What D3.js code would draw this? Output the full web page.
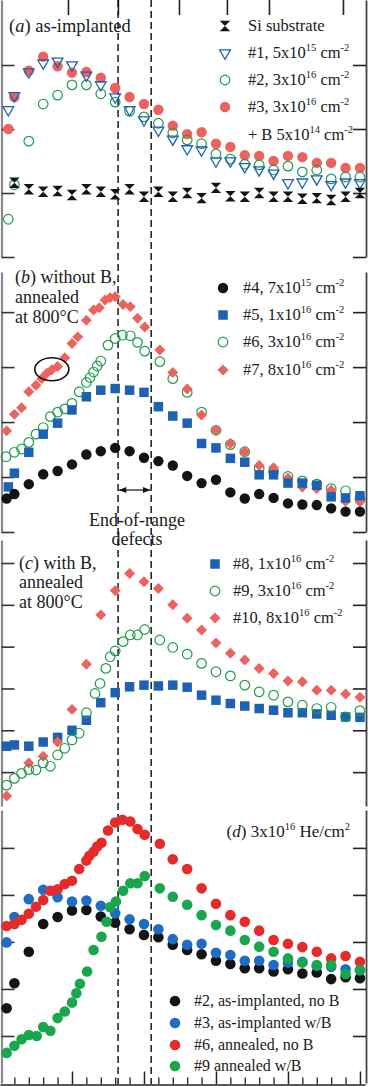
<!DOCTYPE html>
<html><head><meta charset="utf-8">
<script src="https://cdn.jsdelivr.net/npm/d3@7"></script>
<style>
body{margin:0;background:#fff}
svg{display:block}
text{font-family:"Liberation Serif","Times New Roman",serif;fill:#1a1a1a}
</style>
</head><body><svg id="c" width="368" height="1086"></svg>
<script>
// ---------- DATA ----------
// x positions (depth, in minor-tick units)
const xMinor = [1,2,3,4,6,7,8,9,11,12,13,14,16,17,18,19,21,22,23,24];
const xMajor = [5,10,15,20,25];
const xTop = [4.72,8.19,12.43,15.76,18.68,23.82];
const eorBounds = [8.2,10.5];

// panel (a) as-implanted
const aSiX = [1,2,3,4,5,6,7,8,9,10,11,12,13,14,15,16,17,18,19,20,21,22,23,24,25];
const aSi  = [1.16,1.06,1.02,1.03,0.97,1.06,1.02,0.98,1.06,0.94,1.02,0.94,1.00,0.92,1.08,0.95,0.94,1.00,0.94,0.94,0.91,0.92,0.89,0.94,1.00];
const aX   = [0.58,1,2,3,4,5,6,7,8,9,10,11,12,13,14,15,16,17,18,19,20,21,22,23,24,25];
const a1   = [2.30,2.52,2.89,3.03,3.06,3.00,2.84,2.69,2.50,2.30,2.14,1.98,1.84,1.69,1.67,1.50,1.50,1.41,1.36,1.31,1.16,1.17,1.22,1.13,1.17,1.16];
const a2   = [0.59,1.13,1.81,2.39,2.53,2.69,2.69,2.55,2.42,2.28,2.19,2.09,1.94,1.83,1.77,1.61,1.53,1.45,1.44,1.36,1.42,1.33,1.36,1.22,1.25,1.25];
const a3   = [2.00,2.50,2.91,3.13,2.98,2.88,2.89,2.80,2.64,2.50,2.39,2.30,2.05,1.92,1.95,1.77,1.72,1.59,1.58,1.50,1.58,1.56,1.47,1.47,1.39,1.39];
const aTicks = [0,1,2,3];

// panel (b) without B, annealed
const b4X = [0.46,1,2,3,4,5,6,7,8,9,10,11,12,13,14,15,16,17,18,19,20,21,22,23,24,25];
const b4  = [0.61,0.69,0.87,1.05,1.11,1.23,1.41,1.47,1.53,1.47,1.35,1.29,1.21,1.02,0.89,0.95,0.72,0.61,0.69,0.62,0.52,0.50,0.49,0.43,0.37,0.37];
const b5X = [0.58,1,2,3,4,5,6,7,8,9,10,11,12,13,14,15,16,17,18,19,20,21,22,23,24,25];
const b5  = [0.82,1.07,1.45,1.78,1.98,2.22,2.46,2.58,2.61,2.58,2.54,2.28,2.11,1.98,1.61,1.53,1.34,1.27,1.04,1.04,0.89,0.89,0.85,0.64,0.62,0.66];
const b6X = [0.42,1,1.5,2,2.5,3,3.5,4,4.5,5,5.5,6,6.25,6.5,6.75,7,7.5,8,8.5,9.05,9.55,10.05,11.1,12,13,14,15,16,17,18,19,20,21,22,23,24,25];
const b6  = [1.37,1.45,1.51,1.63,1.78,1.90,2.10,2.18,2.24,2.34,2.55,2.72,2.81,2.91,3.02,3.11,3.40,3.52,3.58,3.57,3.45,3.29,3.10,2.79,2.54,2.18,1.85,1.59,1.46,1.16,1.10,1.01,0.93,0.87,0.79,0.75,0.61];
const b7X = [0.46,1,1.5,2,2.5,2.9,3.25,3.6,4,4.5,5,5.4,6,6.5,6.9,7.3,7.65,8,8.55,9.05,9.55,10.05,11.1,12,13,14,15,16,17,18,19,20,21,22,23,24,25];
const b7  = [1.84,2.14,2.26,2.55,2.67,2.79,2.89,2.95,3.01,3.17,3.43,3.55,3.85,4.04,4.08,4.22,4.26,4.28,4.14,4.10,3.89,3.73,3.31,2.90,2.60,2.13,1.85,1.61,1.46,1.21,1.17,0.98,0.82,0.79,0.76,0.56,0.55];
const bTicks = [0,1,2,3,4];
const bCircle = {x:3.6, y:2.96};

// panel (c) with B, annealed
const c8X = [0.46,1,2,3,4,5,6,7,8,9,10,11,12,13,14,15,16,17,18,19,20,21,22,23,24,25];
const c8  = [1.62,1.65,1.62,1.72,1.83,2.00,2.24,2.66,2.90,3.04,3.08,3.06,3.08,3.03,2.84,2.72,2.64,2.58,2.52,2.48,2.42,2.42,2.39,2.36,2.32,2.31];
const c9X = [0.46,1,1.5,2,2.5,3,3.5,4,4.5,5,5.5,6,6.6,6.95,7.35,7.65,8,8.55,9.05,9.55,10.05,11.1,12,13,14,15,16,17,18,19,20,21,22,23,24,25];
const c9  = [0.69,0.85,0.97,1.06,1.05,1.22,1.14,1.41,1.57,1.77,1.93,2.42,2.88,3.12,3.48,3.76,3.90,4.12,4.28,4.28,4.41,4.16,3.98,3.82,3.60,3.40,3.30,3.08,2.92,2.84,2.68,2.60,2.52,2.55,2.32,2.47];
const c10X = [0.46,2,3,4,5,6,7,8,9,10,11,12,13,14,15,16,17,18,19,20,21,22,23,24,25];
const c10  = [0.43,1.22,1.38,1.72,2.50,3.58,4.76,5.34,5.75,5.55,5.39,5.00,4.68,4.40,4.09,3.84,3.68,3.48,3.36,3.18,3.16,2.96,2.96,2.87,2.79];
const cTicks = [1,2,3,4,5,6];

// panel (d) 3x10^16 He/cm2
const dX  = [0.46,1,2,3,4,5,6,7,8,9,10,11,12,13,14,15,16,17,18,19,20,21,22,23,24,25];
const d2  = [1.59,2.12,2.79,3.38,3.53,3.67,3.68,3.54,3.41,3.27,3.15,3.10,2.94,2.83,2.74,2.60,2.53,2.44,2.44,2.37,2.42,2.33,2.35,2.21,2.25,2.23];
const d3v = [2.99,3.53,3.91,4.11,3.95,3.86,3.88,3.77,3.61,3.48,3.38,3.27,3.06,2.94,2.96,2.77,2.72,2.60,2.60,2.51,2.56,2.58,2.49,2.47,2.42,2.40];
const d6X = [0.46,1,1.5,2,2.5,3,3.5,4,4.5,5,5.5,6,6.2,6.5,6.75,7.05,7.5,8,8.5,9.05,9.55,10.05,11.1,12,13,14,15,16,17,18,19,20,21,22,23,24,25];
const d6  = [3.34,3.38,3.47,3.60,3.75,3.89,4.09,4.12,4.23,4.30,4.55,4.73,4.83,4.92,5.03,5.11,5.37,5.54,5.60,5.56,5.40,5.28,5.09,4.76,4.55,4.14,3.81,3.57,3.43,3.24,3.04,2.96,2.89,2.79,2.65,2.70,2.58];
const d9X = [0.46,1,1.5,2,2.55,3,3.5,4,4.5,5,5.3,5.55,6.05,6.5,7.05,7.4,7.65,8.05,8.55,9.05,9.55,10.05,11.1,12,13,14,15,16,17,18,19,20,21,22,23,24,25];
const d9  = [0.64,0.79,0.93,1.02,1.00,1.19,1.11,1.38,1.52,1.71,1.91,2.11,2.37,2.83,3.11,3.43,3.74,3.86,4.09,4.25,4.25,4.40,4.14,3.96,3.79,3.57,3.36,3.24,3.04,2.90,2.79,2.65,2.56,2.51,2.51,2.32,2.40];
const dTicks = [1,2,3,4,5];

// legend labels
const aLabels = ["Si substrate","#1, 5x10^{15} cm^{-2}","#2, 3x10^{16} cm^{-2}","#3, 3x10^{16} cm^{-2}"];
const bLabels = ["#4, 7x10^{15} cm^{-2}","#5, 1x10^{16} cm^{-2}","#6, 3x10^{16} cm^{-2}","#7, 8x10^{16} cm^{-2}"];
const cLabels = ["#8, 1x10^{16} cm^{-2}","#9, 3x10^{16} cm^{-2}","#10, 8x10^{16} cm^{-2}"];
const dLabels = ["#2, as-implanted, no B","#3, as-implanted w/B","#6, annealed, no B","#9 annealed w/B"];

// ---------- DRAW ----------
const svg = d3.select("#c");
const x = d3.scaleLinear().domain([0,25.35]).range([0,365]);

const C = {red:"#ec625d", blue:"#1d62b2", green:"#1f9c4f", black:"#141414",
           dred:"#e52a2c", dblue:"#1f6dc2", dgreen:"#19a64c"};

const hourglass = {draw(ctx,size){const s=Math.sqrt(size)/2; ctx.moveTo(-s,-s); ctx.lineTo(s,-s); ctx.lineTo(-s,s); ctx.lineTo(s,s); ctx.closePath();}};
const sty = {
  hour:   {type:hourglass, size:110, fill:C.black, stroke:"none"},
  tri:    {type:d3.symbolTriangle, size:50, fill:"none", stroke:C.blue, rot:180, sw:1.3},
  ocirc:  {type:d3.symbolCircle, size:72, fill:"none", stroke:C.green, sw:1.2},
  rcirc:  {type:d3.symbolCircle, size:85, fill:C.red, stroke:"none"},
  kcirc:  {type:d3.symbolCircle, size:85, fill:C.black, stroke:"none"},
  bsq:    {type:d3.symbolSquare, size:90, fill:C.blue, stroke:"none"},
  diam:   {type:d3.symbolSquare, size:60, fill:C.red, stroke:"none", rot:45},
  dk:     {type:d3.symbolCircle, size:88, fill:C.black, stroke:"none"},
  db:     {type:d3.symbolCircle, size:88, fill:C.dblue, stroke:"none"},
  dr:     {type:d3.symbolCircle, size:88, fill:C.dred, stroke:"none"},
  dg:     {type:d3.symbolCircle, size:88, fill:C.dgreen, stroke:"none"}
};

function drawSym(g, cx, cy, s){
  g.append("path")
   .attr("d", d3.symbol().type(s.type).size(s.size)())
   .attr("transform", `translate(${cx},${cy})` + (s.rot ? ` rotate(${s.rot})` : ""))
   .attr("fill", s.fill).attr("stroke", s.stroke).attr("stroke-width", s.sw||1);
}
function series(g, xs, ys, yScale, s){
  xs.forEach((xv,i)=> drawSym(g, x(xv), yScale(ys[i]), s));
}
function rich(t, str, supSize){
  const parts = str.split(/\^\{([^}]*)\}/);
  let prevSup=false;
  parts.forEach((p,i)=>{
    if(p==="") { return; }
    const sup = i%2===1;
    const ts = t.append("tspan").text(p);
    if(sup){ ts.attr("font-size", supSize||10.5).attr("dy", -7); prevSup=true; }
    else if(prevSup){ ts.attr("dy", 7); prevSup=false; }
  });
}
function label(x0,y0,str,opts={}){
  const t = svg.append("text").attr("x",x0).attr("y",y0)
    .attr("font-size",opts.size||16.5).attr("text-anchor",opts.anchor||"start");
  const m = str.match(/^\((\w)\)(.*)$/);
  if(m){ t.append("tspan").text("("); t.append("tspan").attr("font-style","italic").text(m[1]); t.append("tspan").text(")"); rich(t,m[2],opts.sup); }
  else rich(t,str,opts.sup);
  return t;
}

const panels = [
  {y:d3.scaleLinear().domain([0,4]).range([257,1]), top:0, bot:257, ticks:aTicks},
  {y:d3.scaleLinear().domain([0,4.73]).range([532,272]), top:272, bot:532, ticks:bTicks},
  {y:d3.scaleLinear().domain([0.19,6.55]).range([806,540]), top:540, bot:806, ticks:cTicks},
  {y:d3.scaleLinear().domain([0,5.87]).range([1083,807]), top:810, bot:1083, ticks:dTicks}
];

// axes
panels.forEach(p=>{
  const ys = d3.scaleLinear().domain([p.y.invert(p.bot), p.y.invert(p.top)]).range([p.bot,p.top]);
  const gl = svg.append("g").attr("transform","translate(1.5,0)")
    .call(d3.axisLeft(ys).tickValues(p.ticks).tickSizeInner(-13).tickSizeOuter(0).tickFormat(""));
  gl.select(".domain").attr("stroke","#8a8a8a").attr("stroke-width",2.2);
  gl.selectAll(".tick line").attr("stroke","#333").attr("stroke-width",1.6);
  const gr = svg.append("g").attr("transform","translate(366,0)")
    .call(d3.axisRight(ys).tickValues(p.ticks).tickSizeInner(-13).tickSizeOuter(0).tickFormat(""));
  gr.select(".domain").attr("stroke","#444").attr("stroke-width",1.8);
  gr.selectAll(".tick line").attr("stroke","#222").attr("stroke-width",1.6);
});
// top ticks (panel a)
const gt = svg.append("g").attr("transform","translate(0,0)")
  .call(d3.axisTop(x).tickValues(xTop).tickSizeInner(-15).tickSizeOuter(0).tickFormat(""));
gt.select(".domain").remove();
gt.selectAll(".tick line").attr("stroke","#222").attr("stroke-width",1.6);
// bottom axis
const gb1 = svg.append("g").attr("transform","translate(0,1084.5)")
  .call(d3.axisBottom(x).tickValues(xMinor).tickSizeInner(-7).tickSizeOuter(0).tickFormat(""));
gb1.select(".domain").attr("stroke","#222").attr("stroke-width",1.6);
gb1.selectAll(".tick line").attr("stroke","#222").attr("stroke-width",1.3);
const gb2 = svg.append("g").attr("transform","translate(0,1084.5)")
  .call(d3.axisBottom(x).tickValues(xMajor).tickSizeInner(-13).tickSizeOuter(0).tickFormat(""));
gb2.select(".domain").remove();
gb2.selectAll(".tick line").attr("stroke","#222").attr("stroke-width",1.5);

// dashed end-of-range lines
eorBounds.forEach(v=>{
  svg.append("line").attr("x1",x(v)).attr("x2",x(v)).attr("y1",0).attr("y2",1084)
    .attr("stroke","#1a1a1a").attr("stroke-width",1.5).attr("stroke-dasharray","7,4");
});

const g = svg.append("g");
// panel a
const pa = panels[0].y;
series(g, aX, a3, pa, sty.rcirc);
series(g, aX, a2, pa, sty.ocirc);
series(g, aX, a1, pa, sty.tri);
series(g, aSiX, aSi, pa, sty.hour);
// panel b
const pb = panels[1].y;
series(g, b6X, b6, pb, sty.ocirc);
series(g, b7X, b7, pb, sty.diam);
series(g, b5X, b5, pb, sty.bsq);
series(g, b4X, b4, pb, sty.kcirc);
svg.append("ellipse").attr("cx",x(bCircle.x)).attr("cy",pb(bCircle.y)).attr("rx",17).attr("ry",11.5)
  .attr("fill","none").attr("stroke","#111").attr("stroke-width",1.6);
// panel c
const pc = panels[2].y;
series(g, c8X, c8, pc, sty.bsq);
series(g, c10X, c10, pc, sty.diam);
series(g, c9X, c9, pc, sty.ocirc);
// panel d
const pd = panels[3].y;
series(g, dX, d2, pd, sty.dk);
series(g, dX, d3v, pd, sty.db);
series(g, d6X, d6, pd, sty.dr);
series(g, d9X, d9, pd, sty.dg);

// panel texts
label(9,32,"(a) as-implanted",{size:18.5});
label(15,283,"(b) without B,",{size:18});
label(15,303,"annealed",{size:18});
label(15,323,"at 800°C",{size:18});
label(19,569,"(c) with B,",{size:18});
label(19,588,"annealed",{size:18});
label(19,608,"at 800°C",{size:18});
label(350,837,"(d) 3x10^{16} He/cm^{2}",{size:17,anchor:"end"});

// end-of-range annotation
const ay = 490;
svg.append("defs").append("marker").attr("id","ah").attr("viewBox","0 0 10 10").attr("refX",10).attr("refY",5)
  .attr("markerWidth",7).attr("markerHeight",6).attr("orient","auto-start-reverse")
  .append("path").attr("d","M0,1 L10,5 L0,9 z").attr("fill","#111");
svg.append("line").attr("x1",x(eorBounds[0])+1).attr("x2",x(eorBounds[1])-1).attr("y1",ay).attr("y2",ay)
  .attr("stroke","#111").attr("stroke-width",1.2).attr("marker-start","url(#ah)").attr("marker-end","url(#ah)");
label(137,526,"End-of-range",{size:18,anchor:"middle"});
label(137,545,"defects",{size:18,anchor:"middle"});

// legends
function legend(items, sx, tx, ys, size){
  items.forEach((it,i)=>{
    drawSym(svg, sx, ys[i], it.s);
    label(tx, ys[i]+5, it.t, {size:size||16.5});
  });
}
legend([{s:sty.hour,t:aLabels[0]},{s:sty.tri,t:aLabels[1]},{s:sty.ocirc,t:aLabels[2]},{s:sty.rcirc,t:aLabels[3]}],
  225, 248, [26,53,80,107]);
label(353,140,"+ B 5x10^{14} cm^{-2}",{anchor:"end"});
legend([{s:sty.kcirc,t:bLabels[0]},{s:sty.bsq,t:bLabels[1]},{s:sty.ocirc,t:bLabels[2]},{s:sty.diam,t:bLabels[3]}],
  223, 243, [288,315,342,370]);
legend([{s:sty.bsq,t:cLabels[0]},{s:sty.ocirc,t:cLabels[1]},{s:sty.diam,t:cLabels[2]}],
  215, 233, [564,591,618]);
legend([{s:sty.dk,t:dLabels[0]},{s:sty.db,t:dLabels[1]},{s:sty.dr,t:dLabels[2]},{s:sty.dg,t:dLabels[3]}],
  175, 194, [1001,1023,1045,1066], 16);
</script>
</body></html>
